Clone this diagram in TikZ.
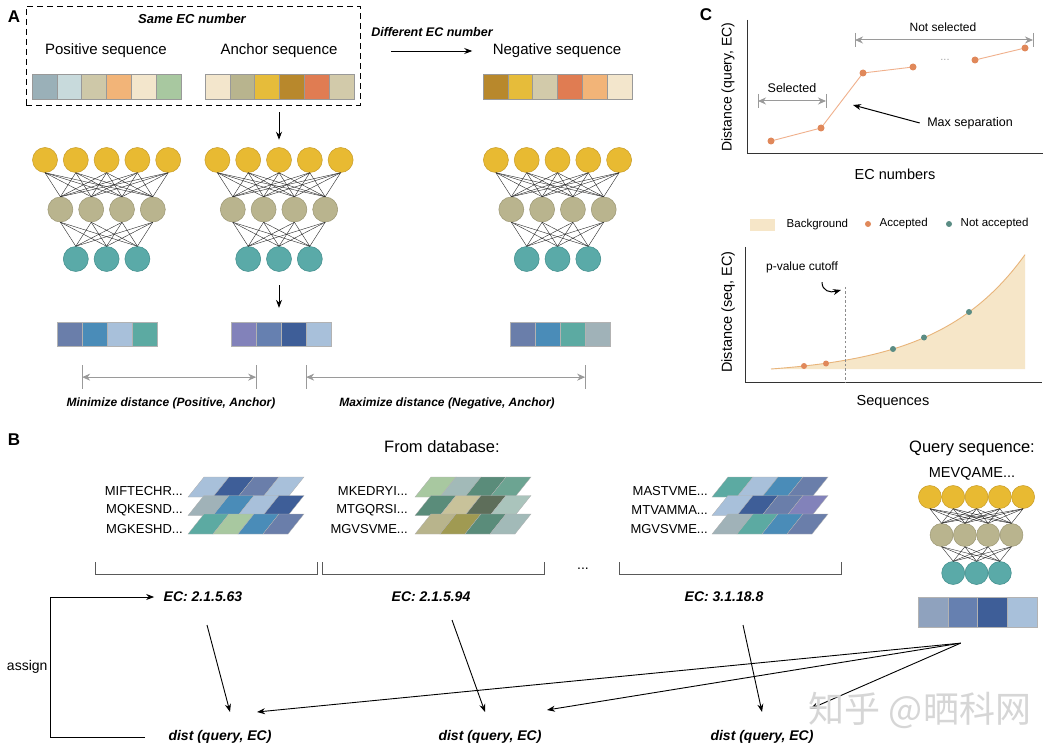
\documentclass[tikz,border=0pt]{standalone}
\usepackage{fontspec}
\setmainfont{Liberation Sans}
\newfontfamily\cjkfont{Noto Sans CJK SC}
\usetikzlibrary{arrows.meta,positioning,calc}

% sequence colours
\definecolor{sqgray}{HTML}{9AB0B8}
\definecolor{sqice}{HTML}{C8DADC}
\definecolor{sqsand}{HTML}{CEC8A8}
\definecolor{sqorange}{HTML}{F2B478}
\definecolor{sqcream}{HTML}{F3E6CC}
\definecolor{sqsage}{HTML}{A8C8A0}
\definecolor{sqolive}{HTML}{B8B48E}
\definecolor{sqyellow}{HTML}{E6BC3A}
\definecolor{sqgold}{HTML}{B8882C}
\definecolor{sqred}{HTML}{E07C52}
\definecolor{sqbeige}{HTML}{D2CAAA}
% embedding colours
\definecolor{emslate}{HTML}{6A7EAA}
\definecolor{emslatemid}{HTML}{6680B0}
\definecolor{emblue}{HTML}{4A8CB8}
\definecolor{emsky}{HTML}{A8C0DA}
\definecolor{emteal}{HTML}{5CAAA2}
\definecolor{emnavy}{HTML}{3E5E98}
\definecolor{empurple}{HTML}{8282BA}
\definecolor{emgray}{HTML}{A0B2B8}
\definecolor{emsteel}{HTML}{8FA2BE}
% database greens
\definecolor{gnsage}{HTML}{A8C8A0}
\definecolor{gnmist}{HTML}{A2BAB8}
\definecolor{gnpine}{HTML}{5A8C7A}
\definecolor{gnjade}{HTML}{6CA492}
\definecolor{gnkhaki}{HTML}{C8C29A}
\definecolor{gnmoss}{HTML}{5E6E5A}
\definecolor{gnpale}{HTML}{AAC4BC}
\definecolor{gnolive}{HTML}{B8B48C}
\definecolor{gnbrass}{HTML}{A09A52}
% network colours
\definecolor{nyellow}{HTML}{E8BA32}
\definecolor{nyellowd}{HTML}{C89C28}
\definecolor{nolive}{HTML}{B9B48E}
\definecolor{nolived}{HTML}{9C9774}
\definecolor{nteal}{HTML}{5AAAA8}
\definecolor{ntealdk}{HTML}{3F8C8A}
% panel C colours
\definecolor{corange}{HTML}{E0885A}
\definecolor{clinecol}{HTML}{F0B08C}
\definecolor{cteal}{HTML}{5A8C84}
\definecolor{cfill}{HTML}{F6E6C8}
\definecolor{ccurve}{HTML}{E8B47A}
\definecolor{guidegray}{HTML}{9A9A9A}

\newcommand{\pxsize}[1]{\fontsize{#1}{#1}\selectfont}

% three layer network: name, x centre, top y, step, layer gap, size
\newcommand{\mlpnet}[6]{%
	\foreach \i in {1,...,5}
		\node[inlayer, minimum size=#6] (#1t\i) at ({#2+#4*(\i-3)},#3) {};
	\foreach \i in {1,...,4}
		\node[hidlayer, minimum size=#6] (#1m\i) at ({#2+#4*(\i-2.5)},{#3+#5}) {};
	\foreach \i in {1,...,3}
		\node[outlayer, minimum size=#6] (#1b\i) at ({#2+#4*(\i-2)},{#3+2*#5}) {};
	\foreach \i in {1,...,5}
		\foreach \j in {1,...,4}
			\draw[wire] (#1t\i.south) -- (#1m\j.north);
	\foreach \i in {1,...,4}
		\foreach \j in {1,...,3}
			\draw[wire] (#1m\i.south) -- (#1b\j.north);
}

% stack of slanted tiles: x0, colours of the three rows
\newcommand{\tilestack}[4]{%
	\foreach \cols [count=\r from 0] in {{#2},{#3},{#4}}
		\foreach \c [count=\k from 0] in \cols
			\filldraw[tile, fill=\c] ({#1+25*\k},{497+18.5*\r}) -- ++(25,0) -- ++(16,-20) -- ++(-25,0) -- cycle;
}

\tikzset{
	%Define standard arrow tip
	>={Stealth[length=8pt, width=6pt]},
	% boxes of the sequences
	seqcell/.style={rectangle, draw=black!40, line width=0.4pt, inner sep=0pt,
		minimum width=24.83pt, minimum height=25pt},
	embcell/.style={rectangle, draw=black!30, line width=0.3pt, inner sep=0pt,
		minimum width=25pt, minimum height=24pt},
	tile/.style={draw=black!30, line width=0.3pt},
	% neurons
	neuron/.style={circle, inner sep=0pt, line width=0.5pt},
	inlayer/.style={neuron, fill=nyellow, draw=nyellowd},
	hidlayer/.style={neuron, fill=nolive, draw=nolived},
	outlayer/.style={neuron, fill=nteal, draw=ntealdk},
	wire/.style={line width=0.4pt, black!85},
	% arrows and lines
	pil/.style={->, line width=0.9pt, black},
	guide/.style={line width=1pt, guidegray},
	bracket/.style={line width=0.9pt, black!65},
	axis/.style={line width=1pt, black!80},
	% texts
	panel/.style={font=\pxsize{17}\bfseries},
	plain/.style={font=\pxsize{15}},
	bolditl/.style={font=\pxsize{13}\bfseries\itshape},
	eclab/.style={font=\pxsize{14}\bfseries\itshape},
	seqtxt/.style={font=\pxsize{13}, inner sep=1pt},
	ctxt/.style={font=\pxsize{12.5}},
	axlab/.style={font=\pxsize{14.5}},
	legtxt/.style={font=\pxsize{11.5}},
	dot/.style={circle, inner sep=0pt, minimum size=7pt},
	smalldot/.style={circle, inner sep=0pt, minimum size=6pt},
}

\begin{document}
\begin{tikzpicture}[x=1pt, y=-1pt]
	\useasboundingbox[fill=white] (0,0) rectangle (1045,754);

	% ---------------- A ----------------
	\node[panel] (lblA) at (14,17) {A};
	\node[draw, line width=0.8pt, dash pattern=on 6pt off 4pt,
		minimum width=334pt, minimum height=99pt] (samebox) at (193,55.5) {};
	\node[bolditl] (same) at (192,19) {Same EC number};
	\node[plain] (poslab) at (106,51) {Positive sequence};
	\node[plain] (anclab) at (279,51) {Anchor sequence};
	\node[plain] (neglab) at (557,51) {Negative sequence};
	\node[bolditl, font=\pxsize{12.5}\bfseries\itshape] (diff) at (432,32) {Different EC number};
	\draw[pil, shorten <=31pt] (samebox.east |- neglab.west) -- ([xshift=-17pt]neglab.west);

	\foreach \c [count=\i] in {sqgray,sqice,sqsand,sqorange,sqcream,sqsage}
		\node[seqcell, fill=\c] (pos\i) at ({32+24.83*(\i-0.5)},86.5) {};
	\foreach \c [count=\i] in {sqcream,sqolive,sqyellow,sqgold,sqred,sqbeige}
		\node[seqcell, fill=\c] (anc\i) at ({205+24.83*(\i-0.5)},86.5) {};
	\foreach \c [count=\i] in {sqgold,sqyellow,sqbeige,sqred,sqorange,sqcream}
		\node[seqcell, fill=\c] (neg\i) at ({483+24.83*(\i-0.5)},86.5) {};

	\mlpnet{pn}{106.6}{160}{30.8}{49.5}{25pt}
	\mlpnet{an}{279}{160}{30.8}{49.5}{25pt}
	\mlpnet{nn}{557.5}{160}{30.8}{49.5}{25pt}

	\draw[pil, shorten <=7pt, shorten >=7.5pt] (ant3.north |- samebox.south) -- (ant3.north);

	\foreach \c [count=\i] in {emslate,emblue,emsky,emteal}
		\node[embcell, fill=\c] (ep\i) at ({57+25*(\i-0.5)},334) {};
	\foreach \c [count=\i] in {empurple,emslatemid,emnavy,emsky}
		\node[embcell, fill=\c] (ea\i) at ({231+25*(\i-0.5)},334) {};
	\foreach \c [count=\i] in {emslate,emblue,emteal,emgray}
		\node[embcell, fill=\c] (en\i) at ({510+25*(\i-0.5)},334) {};

	\draw[pil, shorten <=13.5pt, shorten >=14pt] (anb2.south) -- (anb2.south |- ea1.north);

	% distances
	\foreach \e in {ep1,ea1,ea3,en3}
		\draw[guide] ([yshift=-19pt]\e.south east) -- ++(0,24);
	\draw[guide, {Stealth[length=8pt, width=7pt]}-{Stealth[length=8pt, width=7pt]}] ([yshift=-31pt]ep1.south east) -- ([yshift=-31pt]ea1.south east);
	\draw[guide, {Stealth[length=8pt, width=7pt]}-{Stealth[length=8pt, width=7pt]}] ([yshift=-31pt]ea3.south east) -- ([yshift=-31pt]en3.south east);
	\node[bolditl, font=\pxsize{12}\bfseries\itshape] (minlab) at (171,403) {Minimize distance (Positive, Anchor)};
	\node[bolditl, font=\pxsize{12}\bfseries\itshape] (maxlab) at (447,403) {Maximize distance (Negative, Anchor)};

	% ---------------- B ----------------
	\node[panel] (lblB) at (14,440) {B};
	\node[plain, font=\pxsize{16.5}] (fromdb) at (442,447) {From database:};

	\tilestack{188}{emsky,emnavy,emslate,emsky}{emgray,emblue,emsky,emnavy}{emteal,gnsage,emblue,emslate}
	\tilestack{415}{gnsage,gnmist,gnpine,gnjade}{gnpine,gnkhaki,gnmoss,gnpale}{gnolive,gnbrass,gnpine,gnmist}
	\tilestack{712}{emteal,emsky,emblue,emslate}{emsky,emnavy,emslate,empurple}{emgray,emteal,emblue,emslate}

	\node[seqtxt, anchor=east] (s11) at (184,491) {MIFTECHR...};
	\node[seqtxt, anchor=east] (s12) at (184,510) {MQKESND...};
	\node[seqtxt, anchor=east] (s13) at (184,529) {MGKESHD...};
	\node[seqtxt, anchor=east] (s21) at (409,491) {MKEDRYI...};
	\node[seqtxt, anchor=east] (s22) at (409,510) {MTGQRSI...};
	\node[seqtxt, anchor=east] (s23) at (409,529) {MGVSVME...};
	\node[seqtxt, anchor=east] (s31) at (709,491) {MASTVME...};
	\node[seqtxt, anchor=east] (s32) at (709,510) {MTVAMMA...};
	\node[seqtxt, anchor=east] (s33) at (709,529) {MGVSVME...};

	\draw[bracket] (95,562) |- (317,574) -- (317,562);
	\draw[bracket] (322,562) |- (544,574) -- (544,562);
	\draw[bracket] (619,562) |- (841,574) -- (841,562);
	\node[font=\pxsize{14}] (more) at (583,569) {...};

	\node[eclab] (ec1) at (203,597) {EC: 2.1.5.63};
	\node[eclab] (ec2) at (431,597) {EC: 2.1.5.94};
	\node[eclab] (ec3) at (724,597) {EC: 3.1.18.8};
	\node[eclab] (d1) at (220,737) {dist (query, EC)};
	\node[eclab] (d2) at (490,737) {dist (query, EC)};
	\node[eclab] (d3) at (762,737) {dist (query, EC)};

	% query
	\node[plain, font=\pxsize{16.5}] (query) at (972,448) {Query sequence:};
	\node[plain, font=\pxsize{14.5}] (qseq) at (972,474) {MEVQAME...};
	\mlpnet{qn}{976.5}{497}{23.3}{38}{23pt}
	\foreach \c [count=\i] in {emsteel,emslatemid,emnavy,emsky}
		\node[embcell, minimum width=29.75pt, minimum height=30pt, fill=\c] (q\i) at ({918+29.75*(\i-0.5)},612) {};
	\coordinate (qfork) at ([xshift=-2pt, yshift=-16pt]q2.south);

	\draw[pil] ([shift={(4pt,-28pt)}]ec1.center) -- ([shift={(10pt,25pt)}]d1.center);
	\draw[pil] ([shift={(21pt,-23pt)}]ec2.center) -- ([shift={(-5pt,25pt)}]d2.center);
	\draw[pil] ([shift={(19pt,-28pt)}]ec3.center) -- ([shift={(0pt,25pt)}]d3.center);
	\draw[pil] (qfork) -- ([shift={(37pt,25pt)}]d1.center);
	\draw[pil] (qfork) -- ([shift={(57pt,27pt)}]d2.center);
	\draw[pil] (qfork) -- ([shift={(48pt,28pt)}]d3.center);

	\coordinate (loopbot) at (50,737);
	\draw[pil] ([xshift=-20pt]d1.west) -- (loopbot) |- ([xshift=-6pt]ec1.west);
	\node[plain, font=\pxsize{14}, anchor=east] (assign) at (51,667) {assign};

	\node[text=black!16, font=\cjkfont\pxsize{36}] (wm) at (920,710) {知乎 @晒科网};

	% ---------------- C ----------------
	\node[panel] (lblC) at (706,15) {C};
	\draw[axis] (747,20) -- (747,154) -- (1043,154);
	\node[axlab, font=\pxsize{14}, rotate=90] (ylab1) at (728,87) {Distance (query, EC)};
	\node[axlab] (xlab1) at (895,174) {EC numbers};

	\node[dot] (p1) at (771,141) {};
	\node[dot] (p2) at (821,128) {};
	\node[dot] (p3) at (863,73) {};
	\node[dot] (p4) at (913,67) {};
	\node[dot] (p5) at (975,60) {};
	\node[dot] (p6) at (1025,48) {};
	\draw[clinecol, line width=0.9pt] (p1.center) -- (p2.center) -- (p3.center) -- (p4.center);
	\draw[clinecol, line width=0.9pt] (p5.center) -- (p6.center);
	\foreach \p in {p1,p2,p3,p4,p5,p6}
		\node[dot, fill=corange] at (\p) {};
	\node[text=black!35, font=\pxsize{11}] (ell) at (945,60) {...};

	\coordinate (selL) at (758,101);
	\coordinate (selR) at (826,101);
	\coordinate (nselL) at (855,40);
	\coordinate (nselR) at (1033,40);
	\foreach \e in {selL,selR,nselL,nselR}
		\draw[guide] ([yshift=7pt]\e) -- ([yshift=-7pt]\e);
	\draw[guide, {Stealth[length=8pt, width=7pt]}-{Stealth[length=8pt, width=7pt]}] (selL) -- (selR);
	\draw[guide, {Stealth[length=8pt, width=7pt]}-{Stealth[length=8pt, width=7pt]}] (nselL) -- (nselR);
	\node[ctxt] (sel) at (792,88) {Selected};
	\node[ctxt, font=\pxsize{12}] (nsel) at (943,27) {Not selected};

	\node[ctxt] (msep) at (970,123) {Max separation};
	\coordinate (septip) at (853,105);
	\draw[pil, line width=1pt] ([xshift=-4pt]msep.west) -- (septip);

	% legend
	\node[rectangle, fill=cfill, minimum width=25pt, minimum height=12pt, inner sep=0pt] (legbg) at (762.5,225) {};
	\node[legtxt, right=8pt of legbg] (legbgt) {Background};
	\node[smalldot, fill=corange] (legacc) at (868,224) {};
	\node[legtxt, right=5pt of legacc] (legacct) {Accepted};
	\node[smalldot, fill=cteal] (legnac) at (949,224) {};
	\node[legtxt, right=5pt of legnac] (legnact) {Not accepted};

	\fill[cfill] (771,369) -- plot[domain=0:254, samples=60] ({771+\x},{369-6.5*(exp(0.0115*\x)-1)}) -- (1025,369) -- cycle;
	\draw[ccurve, line width=0.9pt] plot[domain=0:254, samples=60] ({771+\x},{369-6.5*(exp(0.0115*\x)-1)});
	\draw[axis] (745,247) -- (745,382) -- (1042,382);
	\node[axlab, rotate=90] (ylab2) at (728,312) {Distance (seq, EC)};
	\node[axlab] (xlab2) at (893,402) {Sequences};

	\draw[black!45, line width=0.6pt, dash pattern=on 2.5pt off 2pt] (845,287) -- (845,382);
	\node[ctxt, font=\pxsize{12}] (pval) at (802,267) {p-value cutoff};
	\coordinate (cuttip) at (841,290);
	\draw[pil, line width=1pt] ([xshift=20pt, yshift=-6pt]pval.south) .. controls (822,291) and (830,293) .. (cuttip);

	\node[smalldot, fill=corange] (a1) at (804,366) {};
	\node[smalldot, fill=corange] (a2) at (826,363.5) {};
	\node[smalldot, fill=cteal] (n1) at (893,349) {};
	\node[smalldot, fill=cteal] (n2) at (924,337.5) {};
	\node[smalldot, fill=cteal] (n3) at (969,312) {};
\end{tikzpicture}
\end{document}
